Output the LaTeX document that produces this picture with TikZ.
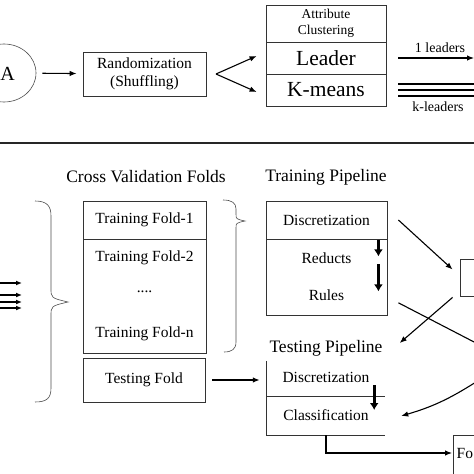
\documentclass[tikz,border=0pt]{standalone}
\usepackage{fontspec}
\setmainfont{Liberation Serif}
\usetikzlibrary{arrows.meta,shapes.geometric,positioning}

\begin{document}
\begin{tikzpicture}[x=1pt, y=-1pt,
  box/.style={draw=black!80, line width=0.8pt, inner sep=0pt, align=center, font=\fontsize{15.5}{18}\selectfont},
  lbl/.style={inner sep=0pt, font=\fontsize{15.5}{18}\selectfont},
  title/.style={inner sep=0pt, font=\fontsize{17.5}{20}\selectfont},
  small/.style={inner sep=0pt, font=\fontsize{14}{14}\selectfont},
  arr/.style={-{Latex[length=7pt,width=5.5pt]}, line width=1.1pt},
  fatarr/.style={-{Latex[length=7pt,width=9pt]}, line width=2.6pt},
  brace/.style={draw=black!70, line width=0.6pt}]
\useasboundingbox (0,0) rectangle (474,474);
\clip (0,0) rectangle (474,474);

% Top row: data, shuffling, clustering
\node[ellipse, draw=black!70, line width=0.6pt, minimum width=64, minimum height=58, inner sep=0pt] (data) at (4,73) {};
\node[inner sep=0pt, font=\fontsize{20}{20}\selectfont] (datatxt) at (7.5,74) {A};
\node[box, minimum width=123, minimum height=44] (rand) at (144.5,74) {Randomization\\(Shuffling)};
\draw[arr, shorten <=6pt, shorten >=6pt] (data) -- (rand);
\coordinate (fork) at (216,74);
\node[box, minimum width=120, minimum height=37, font=\fontsize{13.5}{16}\selectfont] (attr) at (326,23.5) {Attribute\\Clustering};
\node[box, minimum width=120, minimum height=32, font=\fontsize{21.5}{21}\selectfont] (lead) at (326,58) {Leader};
\node[box, minimum width=120, minimum height=32, font=\fontsize{21.5}{21}\selectfont] (kmeans) at (326,90) {K-means};
\draw[arr] (fork) -- ([shift={(-9,-2)}]lead.west);
\draw[arr] (fork) -- ([shift={(-9,2)}]kmeans.west);

% Leaders going out
\coordinate (oneR) at (474,58);
\draw[arr] ([xshift=12]lead.east) -- (oneR);
\node[small] (onelbl) at (440,48) {1 leaders};
\foreach \dy in {-6,0,6}
  \draw[line width=1.1pt] ([shift={(12,\dy)}]kmeans.east) -- ([shift={(100,\dy)}]kmeans.east);
\node[small] (klbl) at (438,107) {k-leaders};

% Separator
\draw[line width=1.4pt, black!85] (0,143) -- (474,143);

% Cross validation folds
\node[title] (cvtitle) at (146,177) {Cross Validation Folds};
\node[title] (tptitle) at (326,177) {Training Pipeline};
\node[box, minimum width=123, minimum height=38] (fold1) at (144.5,220) {Training Fold-1};
\node[box, minimum width=123, minimum height=114, anchor=north] (folds) at (fold1.south) {};
\node[lbl] (fold2) at (144.5,258) {Training Fold-2};
\node[lbl] (dots) at (144.5,292) {....};
\node[lbl] (foldn) at (144.5,334) {Training Fold-n};
\node[box, minimum width=122, minimum height=44] (testfold) at (144,380) {Testing Fold};

% Incoming arrows
\foreach \y in {283,295,302,308} {
  \coordinate (in\y) at (-2,\y);
  \coordinate (out\y) at (22,\y);
  \draw[-{Latex[length=6pt,width=5pt]}, line width=1.4pt] (in\y) -- (out\y);
}

% Braces
\draw[brace] (35,201) .. controls (47,201) and (51,206) .. (51,216) -- (51,288)
  .. controls (51,298) .. (68,302) .. controls (51,306) .. (51,316) -- (51,388)
  .. controls (51,398) and (47,402) .. (35,402);
\draw[brace] (223,200) .. controls (232,200) and (236,203) .. (236,209) -- (236,214)
  .. controls (236,219) .. (245,221) .. controls (236,223) .. (236,228) -- (236,342)
  .. controls (236,349) and (232,352) .. (224,352);

% Training pipeline
\node[box, minimum width=121, minimum height=38] (tdisc) at (326.5,220) {Discretization};
\node[box, minimum width=121, minimum height=76, anchor=north] (tbody) at (tdisc.south) {};
\node[lbl] (reducts) at (326.5,258) {Reducts};
\node[lbl] (rules) at (326.5,295) {Rules};
\draw[fatarr] ([shift={(-9,1)}]tdisc.south east) -- ([shift={(-9,17)}]tdisc.south east);
\draw[fatarr] ([shift={(-9,25)}]tdisc.south east) -- ([shift={(-9,52)}]tdisc.south east);

% Result box on the right
\node[box, minimum width=30, minimum height=37] (res) at (475,277.5) {};
\draw[arr] ([xshift=11]tdisc.east) -- ([shift={(-7,-8)}]res.west);
\coordinate (crossR) at (476,343);
\draw[line width=1.1pt] ([shift={(11,25)}]tbody.east) -- (crossR);

% Testing pipeline
\node[title] (ttitle) at (326,348) {Testing Pipeline};
\node[inner sep=0pt, minimum width=118, minimum height=74] (testbox) at (326,398) {};
\draw[draw=black!80, line width=0.8pt] (testbox.north west) -- (testbox.south west) -- (testbox.south east);
\draw[draw=black!80, line width=0.8pt] (testbox.west |- 0,396) -- (testbox.east |- 0,396);
\node[lbl] (edisc) at (326,377) {Discretization};
\node[lbl] (clsf) at (326,415) {Classification};
\draw[fatarr] ([shift={(-11,-13)}]testbox.east) -- ([shift={(-11,12)}]testbox.east);
\draw[arr, line width=1.6pt] ([xshift=7]testfold.east) -- ([xshift=-7]testbox.west |- testfold.east);
\draw[arr] ([shift={(-7,1)}]res.south west) -- ([shift={(17,-5)}]ttitle.east);
\coordinate (clsR) at (476,382);
\draw[arr] (clsR) to[bend left=8] ([shift={(16,18)}]testbox.east);

% Fold output
\node[box, minimum width=40, minimum height=60, anchor=north west] (foldacc) at (453,435) {};
\node[lbl, anchor=west] (foldtxt) at (456.5,453) {Fo};
\draw[arr] (testbox.south) |- ([xshift=-4.5]foldtxt.west);
\end{tikzpicture}
\end{document}
